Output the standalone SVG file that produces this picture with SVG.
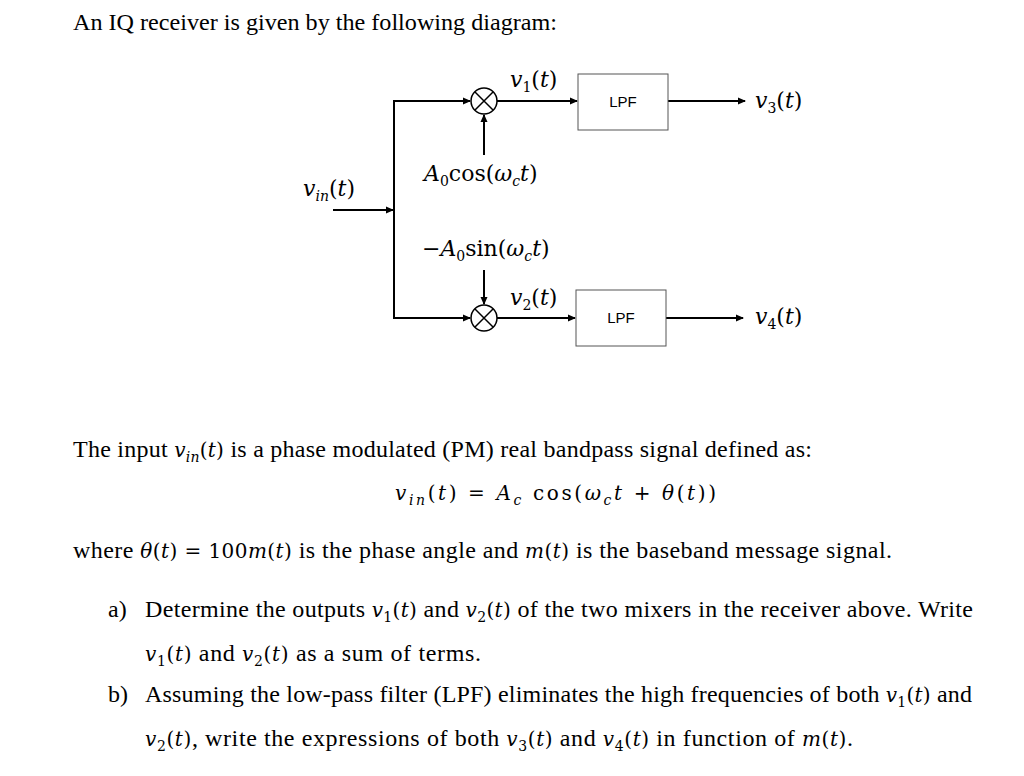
<svg xmlns="http://www.w3.org/2000/svg" width="1024" height="776" viewBox="0 0 1024 776">
<style>
.t{font-family:"Liberation Serif",serif;font-size:24px;fill:#000}
.m{font-family:"DejaVu Serif",serif;font-size:20px;font-style:italic}
.d{font-family:"DejaVu Serif",serif;font-size:22px;font-style:italic;fill:#000}
.u{font-style:normal}
.s{font-size:14px}
.l{stroke:#000;stroke-width:2;fill:none}
.b{font-family:"Liberation Sans",sans-serif;font-size:15px;text-anchor:middle}
</style>
<defs><marker id="a" markerWidth="8" markerHeight="8" refX="7" refY="4" orient="auto" markerUnits="userSpaceOnUse"><path d="M0,0.5 L8,4 L0,7.5z"/></marker></defs>
<rect width="1024" height="776" fill="#fff"/>
<text class="t" x="73" y="30" textLength="484" lengthAdjust="spacingAndGlyphs">An IQ receiver is given by the following diagram:</text>
<g id="connectors" class="l">
<path d="M333,210 H393" marker-end="url(#a)"/>
<path d="M394,319 V101 H470" marker-end="url(#a)"/>
<path d="M394,318 H470" marker-end="url(#a)"/>
<path d="M484,155 V115" marker-end="url(#a)"/>
<path d="M484,270 V304" marker-end="url(#a)"/>
<path d="M497,101 H577" marker-end="url(#a)"/>
<path d="M497,318 H575" marker-end="url(#a)"/>
<path d="M668,101 H745" marker-end="url(#a)"/>
<path d="M666,318 H743" marker-end="url(#a)"/>
</g>
<g id="mixer1"><circle cx="484" cy="101" r="13" fill="#fff" stroke="#000" stroke-width="1.5"/><path d="M475,92 L493,110 M493,92 L475,110" stroke="#000" stroke-width="1.5"/></g>
<g id="mixer2"><circle cx="484" cy="318" r="13" fill="#fff" stroke="#000" stroke-width="1.5"/><path d="M475,309 L493,327 M493,309 L475,327" stroke="#000" stroke-width="1.5"/></g>
<g id="lpf1"><rect x="578" y="74" width="90" height="56" fill="#fff" stroke="#555"/><text class="b" x="623" y="107">LPF</text></g>
<g id="lpf2"><rect x="576" y="290" width="90" height="56" fill="#fff" stroke="#555"/><text class="b" x="621" y="323">LPF</text></g>
<g id="labels">
<text class="d" x="303" y="196">v<tspan class="s" dy="5">in</tspan><tspan class="u" dy="-5">(</tspan>t<tspan class="u">)</tspan></text>
<text class="d" x="510" y="87">v<tspan class="s u" dy="5">1</tspan><tspan class="u" dy="-5">(</tspan>t<tspan class="u">)</tspan></text>
<text class="d" x="510" y="305">v<tspan class="s u" dy="5">2</tspan><tspan class="u" dy="-5">(</tspan>t<tspan class="u">)</tspan></text>
<text class="d" x="755" y="108">v<tspan class="s u" dy="5">3</tspan><tspan class="u" dy="-5">(</tspan>t<tspan class="u">)</tspan></text>
<text class="d" x="755" y="324">v<tspan class="s u" dy="5">4</tspan><tspan class="u" dy="-5">(</tspan>t<tspan class="u">)</tspan></text>
<text class="d" x="424" y="181">A<tspan class="s u" dy="5">0</tspan><tspan class="u" dy="-5">cos(</tspan>ω<tspan class="s" dy="5">c</tspan><tspan dy="-5">t</tspan><tspan class="u">)</tspan></text>
<text class="d" x="422" y="256"><tspan class="u">−</tspan>A<tspan class="s u" dy="5">0</tspan><tspan class="u" dy="-5">sin(</tspan>ω<tspan class="s" dy="5">c</tspan><tspan dy="-5">t</tspan><tspan class="u">)</tspan></text>
</g>
<text class="t" x="73" y="457" textLength="739" lengthAdjust="spacing">The input <tspan class="m">v</tspan><tspan class="m s" dy="5">in</tspan><tspan class="m u" dy="-5">(</tspan><tspan class="m">t</tspan><tspan class="m u">)</tspan> is a phase modulated (PM) real bandpass signal defined as:</text>
<text class="t" x="395" y="500" textLength="321" lengthAdjust="spacing"><tspan class="m">v</tspan><tspan class="m s" dy="5">in</tspan><tspan class="m u" dy="-5">(</tspan><tspan class="m">t</tspan><tspan class="m u">) = </tspan><tspan class="m">A</tspan><tspan class="m s" dy="5">c</tspan><tspan class="m u" dy="-5"> cos(</tspan><tspan class="m">ω</tspan><tspan class="m s" dy="5">c</tspan><tspan class="m" dy="-5">t</tspan><tspan class="m u"> + </tspan><tspan class="m">θ</tspan><tspan class="m u">(</tspan><tspan class="m">t</tspan><tspan class="m u">))</tspan></text>
<text class="t" x="73" y="558" textLength="819" lengthAdjust="spacing">where <tspan class="m">θ</tspan><tspan class="m u">(</tspan><tspan class="m">t</tspan><tspan class="m u">) = 100</tspan><tspan class="m">m</tspan><tspan class="m u">(</tspan><tspan class="m">t</tspan><tspan class="m u">)</tspan> is the phase angle and <tspan class="m">m</tspan><tspan class="m u">(</tspan><tspan class="m">t</tspan><tspan class="m u">)</tspan> is the baseband message signal.</text>
<text class="t" x="108" y="617">a)</text>
<text class="t" x="145" y="617" textLength="828" lengthAdjust="spacing">Determine the outputs <tspan class="m">v</tspan><tspan class="m u s" dy="5">1</tspan><tspan class="m u" dy="-5">(</tspan><tspan class="m">t</tspan><tspan class="m u">)</tspan> and <tspan class="m">v</tspan><tspan class="m u s" dy="5">2</tspan><tspan class="m u" dy="-5">(</tspan><tspan class="m">t</tspan><tspan class="m u">)</tspan> of the two mixers in the receiver above. Write</text>
<text class="t" x="145" y="661" textLength="336" lengthAdjust="spacing"><tspan class="m">v</tspan><tspan class="m u s" dy="5">1</tspan><tspan class="m u" dy="-5">(</tspan><tspan class="m">t</tspan><tspan class="m u">)</tspan> and <tspan class="m">v</tspan><tspan class="m u s" dy="5">2</tspan><tspan class="m u" dy="-5">(</tspan><tspan class="m">t</tspan><tspan class="m u">)</tspan> as a sum of terms.</text>
<text class="t" x="108" y="702">b)</text>
<text class="t" x="145" y="702" textLength="827" lengthAdjust="spacing">Assuming the low-pass filter (LPF) eliminates the high frequencies of both <tspan class="m">v</tspan><tspan class="m u s" dy="5">1</tspan><tspan class="m u" dy="-5">(</tspan><tspan class="m">t</tspan><tspan class="m u">)</tspan> and</text>
<text class="t" x="145" y="746" textLength="708" lengthAdjust="spacing"><tspan class="m">v</tspan><tspan class="m u s" dy="5">2</tspan><tspan class="m u" dy="-5">(</tspan><tspan class="m">t</tspan><tspan class="m u">)</tspan>, write the expressions of both <tspan class="m">v</tspan><tspan class="m u s" dy="5">3</tspan><tspan class="m u" dy="-5">(</tspan><tspan class="m">t</tspan><tspan class="m u">)</tspan> and <tspan class="m">v</tspan><tspan class="m u s" dy="5">4</tspan><tspan class="m u" dy="-5">(</tspan><tspan class="m">t</tspan><tspan class="m u">)</tspan> in function of <tspan class="m">m</tspan><tspan class="m u">(</tspan><tspan class="m">t</tspan><tspan class="m u">)</tspan>.</text>
</svg>
